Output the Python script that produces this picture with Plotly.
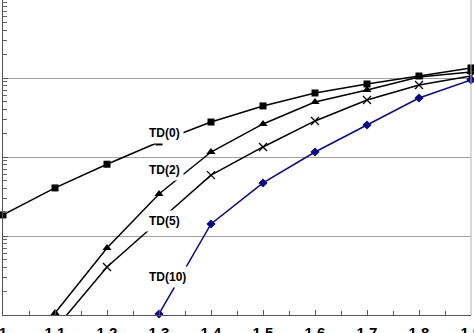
import plotly.graph_objects as go
import numpy as np

x_vals = [1.0, 1.1, 1.2, 1.3, 1.4, 1.5, 1.6, 1.7, 1.8, 1.9]
td0 = [1.85e-3, 4.06e-3, 8.1e-3, 1.55e-2, 2.77e-2, 4.43e-2, 6.46e-2, 8.4e-2, 0.106, 0.134]
td2 = [None, 1.06e-4, 7.05e-4, 3.4e-3, 1.156e-2, 2.62e-2, 4.97e-2, 7.05e-2, 0.103, 0.119]
td5 = [None, 6.65e-5, 4.05e-4, 1.55e-3, 5.9e-3, 1.34e-2, 2.86e-2, 5.27e-2, 8.15e-2, 0.106]
td10 = [None, None, None, 1.03e-4, 1.42e-3, 4.69e-3, 1.156e-2, 2.54e-2, 5.58e-2, 9.44e-2]
series_names = ["TD(0)", "TD(2)", "TD(5)", "TD(10)"]

Y_LO, Y_HI = -4, -4 + 315 / 79

styles = [
    dict(color="black", symbol="square", size=7, lw=1.5),
    dict(color="black", symbol="triangle-up", size=8, lw=1.5),
    dict(color="black", symbol="x-thin", size=8, lw=1.5),
    dict(color="#0a0a80", symbol="diamond", size=7, lw=1.5),
]

fig = go.Figure()
for name, ys, st in zip(series_names, [td0, td2, td5, td10], styles):
    fig.add_trace(go.Scatter(x=x_vals, y=ys, mode="lines", name=name,
                             line=dict(color=st["color"], width=st["lw"]),
                             showlegend=False, connectgaps=False))
    mx = [x for x, y in zip(x_vals, ys) if y is not None and np.log10(y) >= Y_LO - 0.01]
    my = [y for x, y in zip(x_vals, ys) if y is not None and np.log10(y) >= Y_LO - 0.01]
    mk = dict(color=st["color"], symbol=st["symbol"], size=st["size"])
    if st["symbol"] == "x-thin":
        mk["line"] = dict(color=st["color"], width=1.3)
    fig.add_trace(go.Scatter(x=mx, y=my, mode="markers", marker=mk,
                             cliponaxis=False, showlegend=False))

# labels
label_pos = [(1.273, -1.696), (1.273, -2.165), (1.273, -2.81), (1.273, -3.519)]
for name, (lx, ly) in zip(series_names, label_pos):
    fig.add_annotation(x=lx, y=ly, xref="x", yref="y", text="<b>%s</b>" % name,
                       showarrow=False, xanchor="left", yanchor="middle",
                       font=dict(family="Liberation Sans, Arial", size=12, color="black"),
                       bgcolor="white", borderpad=3)

minor_y = [m * 10 ** d for d in range(-5, 1) for m in range(2, 10)]

fig.update_layout(
    width=474, height=333,
    margin=dict(l=3, r=3, t=0, b=18, autoexpand=False),
    plot_bgcolor="white", paper_bgcolor="white",
    xaxis=dict(range=[1.0, 1.9], tickvals=x_vals, ticks="inside", ticklen=5,
               tickcolor="#555", showline=True, linecolor="#555", linewidth=1,
               showgrid=False, zeroline=False, automargin=False,
               ticklabeloverflow="allow",
               tickfont=dict(family="Liberation Sans, Arial", size=15, color="black", weight="bold"),
               ticklabelstandoff=4,
               minor=dict(dtick=0.05, tick0=1.0, ticks="inside", ticklen=4, tickcolor="#555", showgrid=False)),
    yaxis=dict(type="log", range=[Y_LO, Y_HI], dtick=1, ticks="inside", ticklen=5,
               tickcolor="#555", showline=True, linecolor="#555", linewidth=1,
               showgrid=True, gridcolor="#a0a0a0", gridwidth=1, zeroline=False,
               showticklabels=False, automargin=False,
               minor=dict(tickvals=minor_y, ticks="inside", ticklen=4, tickcolor="#666", showgrid=False)),
)
fig.add_shape(type="line", xref="paper", yref="paper", x0=1, x1=1, y0=0, y1=1,
              line=dict(color="#b0b0b0", width=1))

fig.write_html("out.html")
